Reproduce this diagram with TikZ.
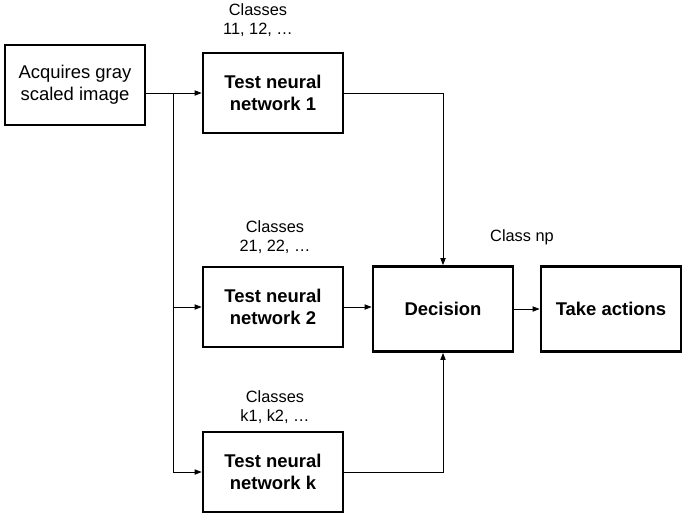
\documentclass[tikz,border=0pt]{standalone}
\usepackage{fontspec}
\setmainfont{Liberation Sans}
\usetikzlibrary{arrows.meta}
\begin{document}
\begin{tikzpicture}[x=0.02cm,y=-0.02cm,
    box/.style={draw,line width=1.6pt,minimum width=2.8cm,minimum height=1.6cm,align=center,font=\fontsize{10.5}{12.5}\selectfont},
    bbox/.style={box,font=\fontsize{10.5}{12.5}\selectfont\bfseries},
    lbl/.style={align=center,font=\fontsize{9.3}{10.5}\selectfont},
    arr/.style={-{Triangle[length=4pt,width=3pt]},line width=0.5pt}]

    \useasboundingbox (0,0) rectangle (685,528);

    \node[box] (acq) at (75,85) {Acquires gray\\scaled image};
    \node[bbox] (nn1) at (273,93) {Test neural\\network 1};
    \node[bbox] (nn2) at (273,307) {Test neural\\network 2};
    \node[bbox] (nnk) at (273,472) {Test neural\\network k};
    \node[bbox,minimum height=1.7cm] (dec) at (443,309) {Decision};
    \node[bbox,minimum height=1.7cm] (act) at (611,309) {Take actions};

    \node[lbl] (c1) at (258,20) {Classes\\11, 12, \dots};
    \node[lbl] (c2) at (275,237) {Classes\\21, 22, \dots};
    \node[lbl] (cnp) at (522,237) {Class np};
    \node[lbl] (ck) at (275,407) {Classes\\k1, k2, \dots};

    \coordinate (br) at (173,93);

    \draw[arr] (acq.east |- br) -- (nn1.west |- br);
    \draw[line width=0.5pt] (br) -- (br |- nnk);
    \draw[arr] (br |- nn2) -- (nn2.west);
    \draw[arr] (br |- nnk) -- (nnk.west);
    \draw[arr] (nn1.east) -| (dec.north);
    \draw[arr] (nnk.east) -| (dec.south);
    \draw[arr] (nn2.east) -- (nn2.east -| dec.west);
    \draw[arr] (dec.east) -- (act.west);

\end{tikzpicture}
\end{document}
